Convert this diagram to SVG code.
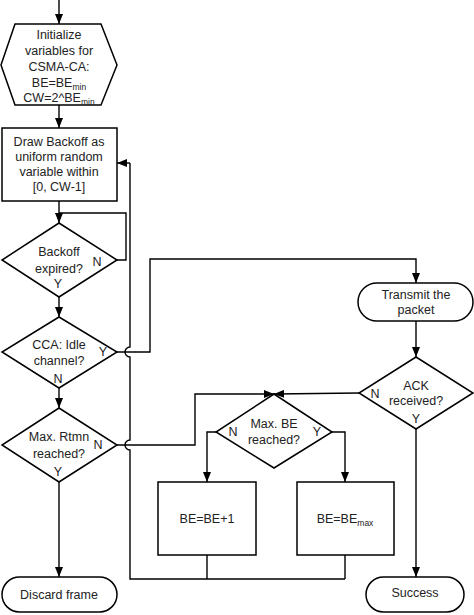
<svg xmlns="http://www.w3.org/2000/svg" width="474" height="615" viewBox="0 0 474 615">
<defs>
<style>
.s{fill:#fff;stroke:#000;stroke-width:1.5}
.l{fill:none;stroke:#000;stroke-width:1.4}
text{font-family:"Liberation Sans",Arial,sans-serif;font-size:12.5px;fill:#222;text-anchor:middle}
.sub{font-size:8.5px}
</style>
<marker id="a" markerUnits="userSpaceOnUse" markerWidth="10" markerHeight="8" refX="10" refY="4" orient="auto"><path d="M0,0L10,4L0,8z" fill="#000"/></marker>
</defs>
<g id="connectors">
<path class="l" d="M59,0V24" marker-end="url(#a)"/>
<path class="l" d="M59,105V128" marker-end="url(#a)"/>
<path class="l" d="M59,201V223" marker-end="url(#a)"/>
<path class="l" d="M117,260H126V213H59"/>
<path class="l" d="M59,297V317" marker-end="url(#a)"/>
<path class="l" d="M59,388V408" marker-end="url(#a)"/>
<path class="l" d="M59,482V577" marker-end="url(#a)"/>
<path class="l" d="M130,163H117" marker-end="url(#a)"/>
<path class="l" d="M130,163V347A5,5 0 0 0 130,357V440A5,5 0 0 0 130,450V579H345"/>
<path class="l" d="M117,352H150V259H416V283" marker-end="url(#a)"/>
<path class="l" d="M117,445H195V394H274" marker-end="url(#a)"/>
<path class="l" d="M359,393L274,394" marker-end="url(#a)"/>
<path class="l" d="M416,321V357" marker-end="url(#a)"/>
<path class="l" d="M416,429V577" marker-end="url(#a)"/>
<path class="l" d="M216,432H207V482" marker-end="url(#a)"/>
<path class="l" d="M332,432H345V482" marker-end="url(#a)"/>
<path class="l" d="M207,555V579"/>
<path class="l" d="M345,555V579"/>
</g>
<g id="init">
<path class="s" d="M15,24H101L117,65L101,105H15L1,65Z"/>
<text x="59" y="39">Initialize</text>
<text x="59" y="55">variables for</text>
<text x="59" y="71">CSMA-CA:</text>
<text x="59" y="87">BE=BE<tspan class="sub" dy="3">min</tspan></text>
<text x="59" y="102">CW=2^BE<tspan class="sub" dy="3">min</tspan></text>
</g>
<g id="draw">
<rect class="s" x="2" y="128" width="115" height="73"/>
<text x="59" y="146">Draw Backoff as</text>
<text x="59" y="161">uniform random</text>
<text x="59" y="176">variable within</text>
<text x="59" y="191">[0, CW-1]</text>
</g>
<g id="backoff">
<path class="s" d="M59,223L117,260L59,297L2,260Z"/>
<text x="59" y="256">Backoff</text>
<text x="59" y="273">expired?</text>
<text x="97" y="266">N</text>
<text x="58" y="288">Y</text>
</g>
<g id="cca">
<path class="s" d="M59,317L117,352L59,388L2,352Z"/>
<text x="59" y="349">CCA: Idle</text>
<text x="59" y="365">channel?</text>
<text x="103" y="356">Y</text>
<text x="58" y="383">N</text>
</g>
<g id="rtmn">
<path class="s" d="M59,408L117,445L59,482L2,445Z"/>
<text x="59" y="441">Max. Rtmn</text>
<text x="59" y="458">reached?</text>
<text x="98" y="449">N</text>
<text x="58" y="476">Y</text>
</g>
<g id="discard">
<rect class="s" x="2" y="577" width="115" height="35" rx="17.5"/>
<text x="59" y="599">Discard frame</text>
</g>
<g id="transmit">
<rect class="s" x="358" y="283" width="115" height="38" rx="19"/>
<text x="416" y="299">Transmit the</text>
<text x="416" y="314">packet</text>
</g>
<g id="ack">
<path class="s" d="M416,357L473,393L416,429L359,393Z"/>
<text x="416" y="390">ACK</text>
<text x="416" y="405">received?</text>
<text x="375" y="398">N</text>
<text x="416" y="423">Y</text>
</g>
<g id="maxbe">
<path class="s" d="M274,394L332,432L274,468L216,432Z"/>
<text x="274" y="428">Max. BE</text>
<text x="274" y="444">reached?</text>
<text x="233" y="436">N</text>
<text x="317" y="436">Y</text>
</g>
<g id="inc">
<rect class="s" x="158" y="482" width="98" height="73"/>
<text x="207" y="523">BE=BE+1</text>
</g>
<g id="max">
<rect class="s" x="297" y="482" width="97" height="73"/>
<text x="345" y="523">BE=BE<tspan class="sub" dy="3">max</tspan></text>
</g>
<g id="success">
<rect class="s" x="366" y="577" width="98" height="35" rx="17.5"/>
<text x="415" y="597">Success</text>
</g>
</svg>
